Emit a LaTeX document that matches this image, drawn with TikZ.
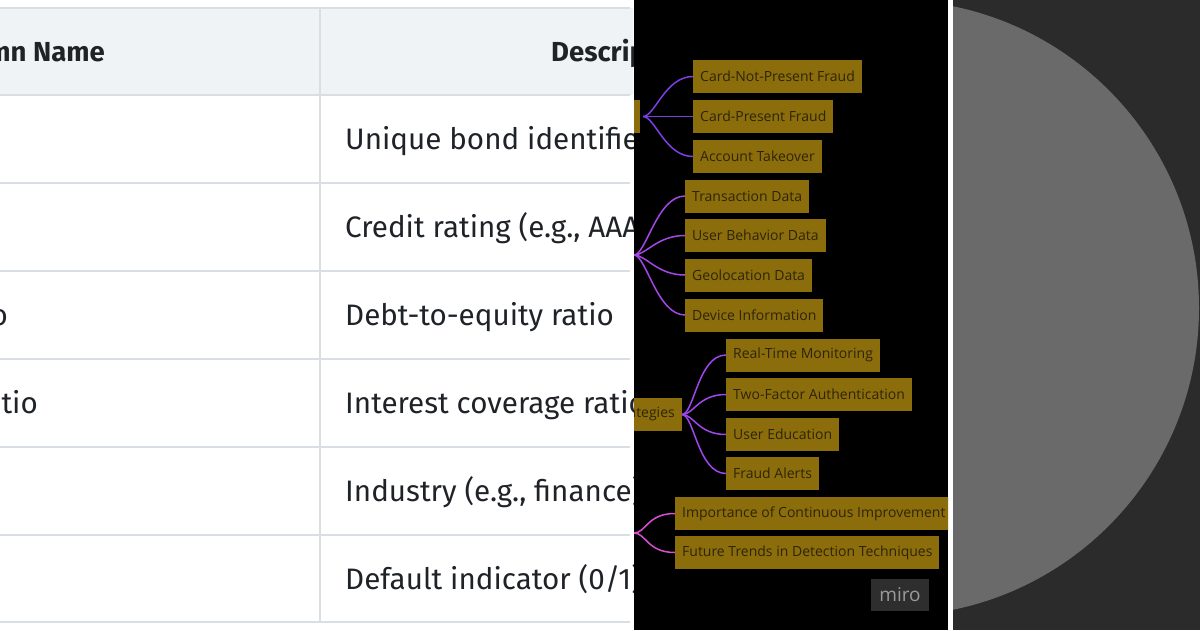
\documentclass[tikz,border=0pt]{standalone}
\usepackage{fontspec}
\setmainfont{Fira Sans}
\newfontfamily\mirofont{Open Sans}
\definecolor{tblline}{HTML}{D8DEE4}
\definecolor{hdrfill}{HTML}{F0F3F6}
\definecolor{tbltext}{HTML}{1F2328}
\definecolor{gold}{HTML}{8C6D0B}
\definecolor{goldtext}{HTML}{2E2508}
\definecolor{cA}{HTML}{7B3FE4}
\definecolor{cB}{HTML}{A347E6}
\definecolor{cC}{HTML}{A046EE}
\definecolor{cD}{HTML}{D84ED0}
\definecolor{mirobox}{HTML}{2E2E2E}
\definecolor{mirotext}{HTML}{9A9A9A}
\definecolor{rightbg}{HTML}{2B2B2B}
\definecolor{disc}{HTML}{6A6A6A}
\begin{document}
\begin{tikzpicture}[x=1pt,y=-1pt,
  cell/.style={anchor=base west,text=tbltext,inner sep=0pt,font=\fontsize{29.6}{34}\selectfont},
  hcell/.style={anchor=base west,text=tbltext,inner sep=0pt,font=\bfseries\fontsize{27.5}{32}\selectfont},
  mm/.style={anchor=west,fill=gold,text=goldtext,inner xsep=7pt,inner ysep=0pt,minimum height=33pt,font=\mirofont\fontsize{14}{16}\selectfont},
  link/.style={line width=1.5pt}]
\useasboundingbox (0,0) rectangle (1200,630);
% ---------- left panel: table ----------
\fill[white] (0,0) rectangle (634,630);
\begin{scope}
\clip (0,0) rectangle (633,630);
\fill[hdrfill] (-10,8) rectangle (640,95);
\foreach \yy in {8,95,183,271,359,447,535,622}
  \draw[tblline,line width=1.2pt] (-10,\yy) -- (630,\yy);
\draw[tblline,line width=1.2pt] (320,8) -- (320,622);
\node[hcell,anchor=base east] (h1) at (105,61) {Column Name};
\node[hcell] (h2) at (551,61) {Description};
\node[cell,anchor=base east] (l3) at (8,325) {D/E Ratio};
\node[cell,anchor=base east] (l4) at (38,413) {Coverage Ratio};
\node[cell] (d1) at (345,149) {Unique bond identifier};
\node[cell] (d2) at (345,237) {Credit rating (e.g., AAA)};
\node[cell] (d3) at (345,325) {Debt-to-equity ratio};
\node[cell] (d4) at (345,413) {Interest coverage ratio};
\node[cell] (d5) at (345,501) {Industry (e.g., finance)};
\node[cell] (d6) at (345,589) {Default indicator (0/1)};
\end{scope}
% ---------- middle panel: mind map ----------
\fill[black] (634,0) rectangle (948,630);
\fill[white] (948,0) rectangle (953,630);
\begin{scope}
\clip (634,0) rectangle (948,630);
\node[mm,anchor=east,minimum width=40pt] (p1) at (640,116.5) {};
\node[mm] (a1) at (693,76.5) {Card-Not-Present Fraud};
\node[mm] (a2) at (693,116.5) {Card-Present Fraud};
\node[mm] (a3) at (693,156.5) {Account Takeover};
\coordinate (p2) at (634,255);
\node[mm] (b1) at (685,196) {Transaction Data};
\node[mm] (b2) at (685,235.5) {User Behavior Data};
\node[mm] (b3) at (685,275) {Geolocation Data};
\node[mm] (b4) at (685,315) {Device Information};
\node[mm,anchor=east] (p3) at (682,414.5) {Strategies};
\node[mm] (c1) at (726,355) {Real-Time Monitoring};
\node[mm] (c2) at (726,394.5) {Two-Factor Authentication};
\node[mm] (c3) at (726,434.5) {User Education};
\node[mm] (c4) at (726,473.5) {Fraud Alerts};
\coordinate (p4) at (634,533);
\node[mm] (e1) at (675,513.5) {Importance of Continuous Improvement};
\node[mm] (e2) at (675,552.5) {Future Trends in Detection Techniques};
\foreach \t in {a1,a2,a3}
  \draw[link,cA] ([xshift=3pt]p1.east) .. controls +(12,0) and +(-28,0) .. (\t.west);
\foreach \t in {b1,b2,b3,b4}
  \draw[link,cB] (p2) .. controls +(12,0) and +(-28,0) .. (\t.west);
\foreach \t in {c1,c2,c3,c4}
  \draw[link,cC] (p3.east) .. controls +(12,0) and +(-28,0) .. (\t.west);
\foreach \t in {e1,e2}
  \draw[link,cD] (p4) .. controls +(12,0) and +(-28,0) .. (\t.west);
\node[fill=mirobox,text=mirotext,minimum width=58pt,minimum height=32pt,inner sep=0pt,font=\mirofont\fontsize{19}{21}\selectfont] (logo) at (900,595) {miro};
\end{scope}
% ---------- right panel ----------
\fill[rightbg] (953,0) rectangle (1200,630);
\begin{scope}
\clip (953,0) rectangle (1200,630);
\fill[disc] (891,308) circle[radius=308];
\end{scope}
\end{tikzpicture}
\end{document}
